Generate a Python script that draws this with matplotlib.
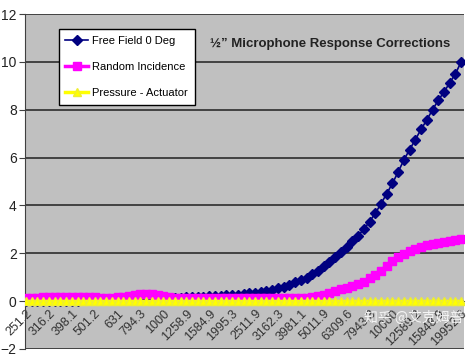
import matplotlib
matplotlib.use("Agg")
import matplotlib.pyplot as plt

# 1/12-octave points, labels every 4th point
tick_labels = ['251.2', '316.2', '398.1', '501.2', '631', '794.3', '1000', '1258.9',
               '1584.9', '1995.3', '2511.9', '3162.3', '3981.1', '5011.9', '6309.6',
               '7943.3', '10000', '12589.2', '15848.9', '19952.6']

free_field = [0.00, 0.00, 0.00, 0.00, 0.00, 0.00, 0.00, 0.00, 0.00, 0.00,
              0.05, 0.05, 0.05, 0.05, 0.05, 0.05, 0.05, 0.05, 0.05, 0.05,
              0.10, 0.10, 0.10, 0.10, 0.12, 0.13, 0.14, 0.15, 0.16, 0.17,
              0.18, 0.19, 0.20, 0.21, 0.22, 0.24, 0.25, 0.27, 0.29, 0.32,
              0.35, 0.38, 0.42, 0.47, 0.53, 0.60, 0.69, 0.78, 0.87, 0.98,
              1.12, 1.28, 1.45, 1.65, 1.86, 2.07, 2.28, 2.50, 2.74, 3.00,
              3.32, 3.67, 4.07, 4.49, 4.92, 5.40, 5.90, 6.33, 6.75, 7.18,
              7.57, 8.00, 8.39, 8.74, 9.12, 9.50, 10.00]

random_inc = [0.12, 0.13, 0.15, 0.17, 0.18, 0.18, 0.18, 0.18, 0.18, 0.18,
              0.18, 0.17, 0.16, 0.15, 0.15, 0.15, 0.16, 0.18, 0.20, 0.25,
              0.30, 0.31, 0.30, 0.25, 0.20, 0.16, 0.14, 0.15, 0.15, 0.15,
              0.15, 0.15, 0.15, 0.15, 0.15, 0.15, 0.15, 0.15, 0.15, 0.15,
              0.15, 0.15, 0.15, 0.15, 0.15, 0.15, 0.15, 0.13, 0.13, 0.14,
              0.16, 0.20, 0.25, 0.33, 0.42, 0.50, 0.57, 0.64, 0.72, 0.82,
              0.95, 1.10, 1.28, 1.48, 1.68, 1.85, 1.98, 2.10, 2.20, 2.27,
              2.33, 2.38, 2.42, 2.46, 2.50, 2.54, 2.58]

pressure = [0.00, 0.00, 0.00, 0.00, 0.00, 0.00, 0.00, 0.00, 0.00, 0.00,
            0.00, 0.00, 0.00, 0.00, 0.00, 0.00, 0.00, 0.00, 0.00, 0.00,
            0.00, 0.00, 0.00, 0.00, 0.00, 0.00, 0.00, 0.00, 0.00, 0.00,
            0.00, 0.00, 0.00, 0.00, 0.00, 0.00, 0.00, 0.00, 0.00, 0.00,
            0.00, 0.00, 0.00, 0.00, 0.00, 0.00, 0.00, 0.00, 0.00, 0.00,
            0.00, 0.00, 0.00, 0.00, 0.00, 0.00, 0.00, 0.00, 0.00, 0.00,
            0.00, 0.00, 0.00, 0.00, 0.00, 0.00, 0.00, 0.00, 0.00, 0.00,
            0.00, 0.00, 0.00, 0.00, 0.00, 0.00, 0.00]

idx = list(range(len(free_field)))

plt.rcParams['font.family'] = ['Liberation Sans', 'DejaVu Sans']

fig = plt.figure(figsize=(4.74, 3.58), dpi=100)
ax = fig.add_axes([25/474, 9/358, 439/474, 335/358])
ax.set_facecolor('#c0c0c0')

ax.plot(idx, free_field, color='#000080', lw=1.2, marker='D', ms=5,
        label='Free Field 0 Deg', zorder=3)
ax.plot(idx, random_inc, color='#ff00ff', lw=2.5, marker='s', ms=5.5,
        label='Random Incidence', zorder=4)
ax.plot(idx, pressure, color='#ffff00', lw=2.5, marker='^', ms=6,
        mec='#eeee30', label='Pressure - Actuator', zorder=5)

ax.set_ylim(-2, 12)
ax.set_xlim(-0.17, 76.5)
ax.set_yticks(range(-2, 13, 2))
ax.yaxis.grid(True, color='#383838', lw=1.3)
ax.set_axisbelow(True)

ax.spines['top'].set_visible(False)
ax.spines['right'].set_visible(False)
ax.spines['left'].set_color('#404040')
ax.spines['bottom'].set_position(('data', 0))
ax.spines['bottom'].set_color('#404040')

ax.set_xticks(range(0, 77, 4))
ax.set_xticklabels(tick_labels, rotation=45, ha='right', rotation_mode='anchor',
                   fontsize=9, color='#333333')
ax.set_xticks(idx, minor=True)
ax.tick_params(axis='x', which='both', direction='inout', length=5,
               color='#404040', pad=2)
ax.tick_params(axis='y', length=4, color='#404040', labelsize=10,
               labelcolor='#222222', pad=2)

ax.legend(loc='upper left', bbox_to_anchor=(0.077, 0.955), fontsize=8,
          frameon=True, fancybox=False, edgecolor='black', framealpha=1,
          labelspacing=1.45, handlelength=2.0, handletextpad=0.4,
          borderpad=0.6, borderaxespad=0)

fig.text(330/474, 1 - 44/358, '½” Microphone Response Corrections',
         ha='center', va='center', fontsize=9.5, fontweight='bold', color='#222222')

fig.text(414/474, 1 - 318/358, '知乎 @艾克姆普', ha='center', va='center',
         fontsize=10, color='white', alpha=0.85,
         family=['Noto Sans CJK SC', 'DejaVu Sans'])

fig.savefig('out.png', dpi=100)
